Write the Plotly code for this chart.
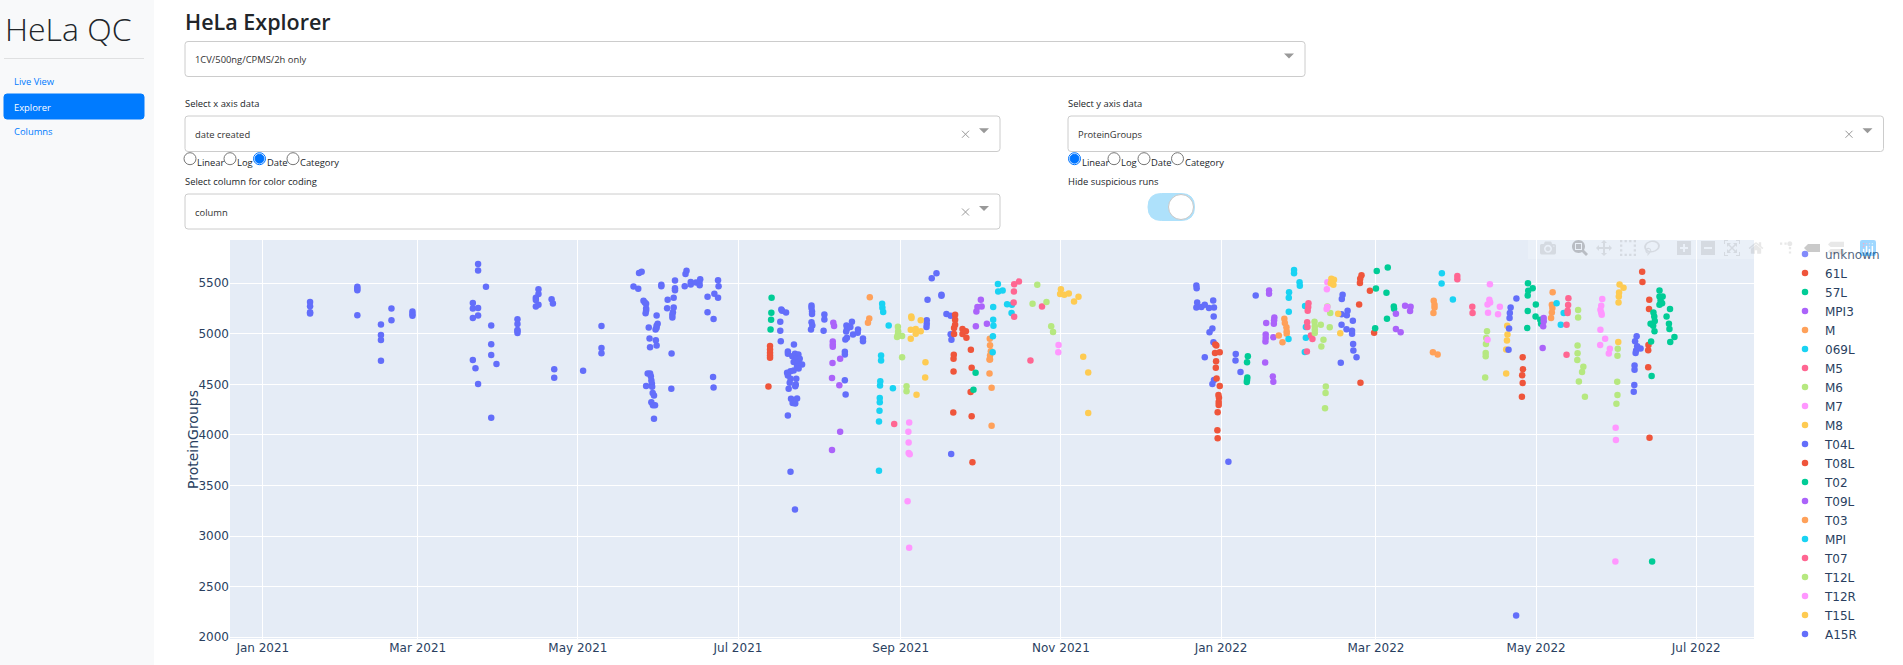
import pandas as pd
import plotly.graph_objects as go

W, H = 1903, 665
START = pd.Timestamp("2021-01-01")

# Data: days since 2021-01-01 and protein group counts
unknown_days = [18,18,18,18,36,36,36,36,45,45,45,45,49,49,57,57,57,80,80,80,80,82,82,82,81,82,82,85,87,87,87,87,89,97,97,97,97,97,105,105,105,104,104,104,110,110.5,111,111,122,129,129,129,
 143.3,144.3,141.2,143,145,145.5,146,146,146,145.8,150,147,150.4,150,150,149.6,147.3,149.7,150,147.5,146.6,147.5,147.8,148,148.2,148.3,146,148.5,149,148,148.6,149.4,149,151.8,151.8,154.2,156.5,154,156.5,156.2,156,156,157,157,157,155.7,155.6,160.7,161,161.4,163,163,165,166.6,166.3,166.4,169.4,172,173.4,173.6,173.4,169.4,171.7,171.5,171.7,
 197.5,197.8,199.3,197.1,197.1,197.3,202.3,200,200,202.7,204,201.7,203.2,204.5,202.2,204.1,205.4,203.5,202.2,204.1,201,199.7,200,201,200.7,203.2,202.8,203,200.3,201.2,203.5,201.8,202.8,200,201,202.7,
 209,209,209.2,209.2,209,209.3,208.8,213.9,213.9,213.6,222.3,222.5,222.2,224.4,223.8,224.8,226.7,226.6,228.6,228.6,221.9,222.5,221.7,221.7,221.7,222,
 256.6,254.8,253.2,258.5,258.5,252.9,252.9,252.8,260.4,262,262,262.3,262.2]
unknown_values = [5315,5272,5213,5200,5464,5447,5431,5183,5091,4988,4939,4734,5249,5134,5220,5196,5177,5305,5249,5157,4741,5256,5180,4503,4660,5691,5625,5464,5081,4896,4790,4170,4701,5144,5097,5038,5028,5008,5441,5394,5286,5355,5335,5269,5342,5299,4649,4566,4635,5078,4860,4807,
 5602,5612,5467,5444,5326,5309,5296,5250,5230,5204,5181,5062,5099,5079,5059,5043,4954,4937,4885,4868,4608,4608,4579,4539,4506,4477,4483,4414,4391,4322,4293,4293,4161,5484,5470,5336,5355,5253,5260,5214,5187,5161,5526,5451,5431,4806,4457,5470,5592,5622,5513,5487,5507,5539,5507,5480,5365,5395,5530,5470,5355,5214,5145,4572,4470,
 5241,5228,5211,5119,5030,4927,4894,4825,4802,4802,4795,4779,4756,4752,4720,4720,4696,4680,4637,4657,4630,4614,4588,4555,4515,4555,4482,4498,4456,4357,4360,4317,4310,4192,3637,3262,
 5280,5254,5221,5195,5115,5082,5043,5191,5142,5030,5082,5050,5023,5119,5066,4993,5043,5010,4954,4927,4944,4960,4822,4795,4541,4399,
 5598,5549,5336,5385,5375,5133,5100,5067,5195,5179,4995,4941,3811]

s61L_days = [193.2,193.2,193.2,193.2,193.2,192.6,263.7,263.7,263.7,263.3,263.3,266.5,266.5,267.8,268,269.7,263.2,263.1,270,263.1,269.6,263,270,270.3]
s61L_values = [4878,4845,4812,4785,4762,4479,5188,5139,5090,5057,4998,5047,4998,5024,4962,4841,4792,4752,4664,4628,4424,4221,4185,3729]

s57L_days = [193.8,193.7,193.6,193.4,271.5,270.7]
s57L_values = [5356,5208,5139,5043,4614,4447]

MPI3_days = [217.3,217.6,217.1,217.1,217.1,217,219.9,216.8,219.6,219.9,216.8,273.5,273.8,272.2,271.8,271.6,275.8]
MPI3_values = [5109,5076,4924,4894,4871,4710,4752,4564,4492,4031,3850,5336,5270,5264,5221,5074,5100]

M_days = [231.2,231,230.5,276.9,277,277.3,277,277,276.8,276.8,277.6,277.6]
M_values = [5360,5152,5109,4952,4887,4828,4785,4746,4746,4608,4467,4090]

s069L_days = [235.9,236,236.3,238.4,235.5,235.5,235.2,235.1,235,235,234.9,234.7,234.7,240,280,280.1,281.8,283.5,285.3,285.2,278.2,278.2,278.3,278.1,278]
s069L_values = [5297,5257,5215,5082,4785,4736,4531,4488,4366,4323,4238,4132,3647,4462,5493,5418,5428,5293,5287,5205,5264,5139,5080,4975,4818]

M5_days = [240.5,288,286.2,286.1,286,286.2,296.8,292.4]
M5_values = [4109,5516,5490,5418,5310,5169,5270,4736]

M6_days = [241.9,241.9,241.6,243.5,242,243.5,245.2,245.2,295,293.2,298.5,300.3,301]
M6_values = [5069,4993,4967,4977,5026,4769,4482,4432,5484,5297,5313,5074,5018]

M7_days = [246.2,245.9,246,246,246.4,245.6,246.2,303.1,303]
M7_values = [4122,4031,3926,3822,3810,3344,2884,4890,4818]

M8_days = [247,247.1,250.6,246.8,248.7,248.7,250.6,246.8,252.4,252.3,249,304,303.7,305.3,307,310.7,309,312.5,314.4,314.4]
M8_values = [5172,5155,5133,5041,5047,5001,5024,4952,4719,4568,4398,5441,5392,5385,5398,5366,5320,4772,4618,4218]

T04L_days = [355.6,355.7,355.9,355.6,357.5,358.8,360.4,362.3,362,362.2,361.7,360.6,362.1,358.8,362.3,361.7,367.8,370.6,370.5,372.4,378.2,
 411.3,411,410.9,413.2,412.9,415.2,410.9,412.8,414.9,414.9,415.3,415.4,416.6,410.6]
T04L_values = [5477,5451,5310,5261,5264,5287,5254,5261,5329,5172,5051,5015,4916,4769,4542,4503,3735,4801,4736,4621,5379,
 5385,5343,5192,5228,5182,5129,5090,5044,5031,5001,4900,4834,4769,4713]

T08L_days = [362.8,363.2,362.7,364.5,363.1,363,363.3,364.5,364,364.2,364.1,364.1,363.7,363.6,363.7,
 418.5,418,417.9,421.7,417.6,423.3,418.1,479.9,480,479.7,479.9,479.6,
 525.4,525.5,528.1,528,527.8,527.7,527.7,528.2]
T08L_values = [4893,4885,4811,4818,4729,4664,4559,4483,4395,4368,4326,4296,4224,4047,3968,
 5579,5543,5503,5425,5290,5011,4516,4769,4650,4591,4513,4378,
 5612,5513,5336,5244,4890,4837,4670,3972]

T02_days = [375.2,374.9,375,374.9,374.8,424.3,428.5,424,428,430.8,430.9,428.2,423.7,481.9,483.7,482,481.8,484.9,481.8,484.8,481.6,486.6,486.9,
 532,532,533.2,532.4,532,533,536,534.7,529.7,530,530.2,528.6,529.6,530.1,535.6,535.8,537.7,536.1,528.8,529,529.2]
T02_values = [4778,4719,4568,4542,4523,5621,5654,5448,5405,5270,5247,5149,5054,5500,5451,5425,5379,5290,5224,5172,5057,5139,5100,
 5428,5369,5369,5329,5287,5303,5244,5172,5211,5172,5126,5100,5080,5024,5100,5047,4969,4919,4923,4582,2749]

T09L_days = [383.3,383.3,382.2,385.3,385.2,385.1,382,382,381.9,384.9,381.8,384.7,384.9,431.6,435.1,437.2,437,431.6,433.4,487.5,487.9,487.9,487.7]
T09L_values = [5428,5395,5106,5162,5133,5100,4992,4959,4923,4965,4716,4578,4526,5198,5277,5267,5224,5047,5015,4860,5156,5123,5074]

T03_days = [389.1,389.3,389.9,390,390,387,388.4,446,446.3,446.3,445.9,445.7,447.5,491.3,491,491.2,491,490.7]
T03_values = [5149,5106,5064,5024,5001,4982,4916,5326,5287,5261,5205,4818,4795,5411,5287,5254,5211,5156]

MPI_days = [392.8,392.8,394.9,395,390.9,390.8,390.8,390.7,397,397.3,397.3,396.9,449.1,449,453.3,492.8,495.5,494.4]
MPI_values = [5631,5598,5510,5474,5411,5356,5218,4949,5274,5067,4962,4821,5598,5497,5339,5303,5205,5090]

T07_days = [398.3,398.2,398,397.8,397.9,399.2,399.8,397.7,455,455,460.7,460.8,497.3,497.2,497,497,496.6,496.6]
T07_values = [5303,5264,5228,5113,5067,4982,4949,4824,5572,5539,5267,5205,5352,5284,5228,5205,5090,4792]

T12L_days = [400.6,400.7,400.7,400.7,403,406.4,406.6,405.5,404,403.2,404.9,404.8,404.6,466.3,466,465.9,465.8,465.8,465.6,
 501,501,500.8,500.8,500.7,503,502.5,501.3,503.6,516.1,516,515.9,516,515.6]
T12L_values = [5120,5074,5041,5008,5090,5064,5205,5270,4942,4874,4480,4414,4263,5024,4959,4900,4811,4778,4568,
 5234,5162,4883,4808,4742,4673,4621,4529,4378,4851,4782,4526,4395,4309]

T12R_days = [405.5,405.3,405.5,405.2,467.4,467.2,467.5,466.5,466.7,470.5,471.2,466.5,
 510.2,509.8,509.5,509.8,510,509.5,511.3,509.4,513.1,512.7,515.3,515.4,515.2]
T12R_values = [5510,5441,5264,5244,5490,5336,5310,5290,5208,5192,5267,4942,
 5343,5277,5238,5211,5188,5041,4952,4890,4851,4805,4070,3949,2749]

T15L_days = [407,408,406.8,407.8,409.6,410.4,474,474.1,473.9,473.6,473.6,516.8,518.3,516.6,516.5,516.4,516.3]
T15L_values = [5543,5533,5500,5484,5198,5005,5080,4992,4933,4844,4608,5487,5454,5408,5369,5310,4919]

A15R_days = [477.5,475.3,475,474.9,474.7,474.5,477.4,523.3,522.7,523.5,524.8,523.1,522.9,522.5,522.5,522.4,522.2]
A15R_values = [5349,5261,5205,5156,5051,4841,2216,4975,4926,4877,4854,4834,4811,4687,4644,4493,4427]

series_names = ["unknown","61L","57L","MPI3","M","069L","M5","M6","M7","M8","T04L","T08L","T02","T09L","T03","MPI","T07","T12L","T12R","T15L","A15R"]
series_days = [unknown_days,s61L_days,s57L_days,MPI3_days,M_days,s069L_days,M5_days,M6_days,M7_days,M8_days,T04L_days,T08L_days,T02_days,T09L_days,T03_days,MPI_days,T07_days,T12L_days,T12R_days,T15L_days,A15R_days]
series_values = [unknown_values,s61L_values,s57L_values,MPI3_values,M_values,s069L_values,M5_values,M6_values,M7_values,M8_values,T04L_values,T08L_values,T02_values,T09L_values,T03_values,MPI_values,T07_values,T12L_values,T12R_values,T15L_values,A15R_values]
palette = ["#636efa","#EF553B","#00cc96","#ab63fa","#FFA15A","#19d3f3","#FF6692","#B6E880","#FF97FF","#FECB52"]

fig = go.Figure()
for i, (name, days, vals) in enumerate(zip(series_names, series_days, series_values)):
    dates = START + pd.to_timedelta(days, unit="D")
    fig.add_trace(go.Scatter(x=list(dates), y=vals, mode="markers", name=name,
                             marker=dict(color=palette[i % 10], size=6.5)))

# ---- page furniture (dashboard controls around the chart) ----
px = lambda v: v / W
py = lambda v: 1 - v / H
shapes, notes = [], []
UI = "Open Sans"
CHART_FONT = "DejaVu Sans, Verdana, sans-serif"

def rrect(x0, y0, x1, y1, r=3, fill="white", line="#cccccc", lw=1):
    d = (f"M {px(x0+r)} {py(y0)} L {px(x1-r)} {py(y0)} Q {px(x1)} {py(y0)} {px(x1)} {py(y0+r)} "
         f"L {px(x1)} {py(y1-r)} Q {px(x1)} {py(y1)} {px(x1-r)} {py(y1)} "
         f"L {px(x0+r)} {py(y1)} Q {px(x0)} {py(y1)} {px(x0)} {py(y1-r)} "
         f"L {px(x0)} {py(y0+r)} Q {px(x0)} {py(y0)} {px(x0+r)} {py(y0)} Z")
    shapes.append(dict(type="path", xref="paper", yref="paper", path=d, fillcolor=fill,
                       line=dict(color=line, width=lw)))

def circle(cx, cy, r, fill="rgba(0,0,0,0)", line="#666666", lw=1):
    shapes.append(dict(type="circle", xref="paper", yref="paper", x0=px(cx-r), x1=px(cx+r),
                       y0=py(cy+r), y1=py(cy-r), fillcolor=fill, line=dict(color=line, width=lw)))

def text(x, y, s, size=9.4, color="#212529", weight=400, anchor="left", angle=0, family=UI):
    notes.append(dict(xref="paper", yref="paper", x=px(x - 2 if anchor == "left" else x), y=py(y), text=s, showarrow=False,
                      xanchor=anchor, yanchor="middle", textangle=angle,
                      font=dict(family=family, size=size, color=color, weight=weight)))

def arrow(cx, cy):
    d = f"M {px(cx-5)} {py(cy-2.5)} L {px(cx+5)} {py(cy-2.5)} L {px(cx)} {py(cy+2.5)} Z"
    shapes.append(dict(type="path", xref="paper", yref="paper", path=d, fillcolor="#999999",
                       line=dict(width=0)))

def cross(cx, cy):
    d = (f"M {px(cx-3.5)} {py(cy-3.5)} L {px(cx+3.5)} {py(cy+3.5)} "
         f"M {px(cx-3.5)} {py(cy+3.5)} L {px(cx+3.5)} {py(cy-3.5)}")
    shapes.append(dict(type="path", xref="paper", yref="paper", path=d,
                       line=dict(color="#999999", width=1)))

def dropdown(x0, y0, x1, y1, label, clear=True):
    rrect(x0, y0, x1, y1)
    text(x0 + 10, (y0 + y1) / 2 + 0.5, label, color="#333333")
    arrow(x1 - 16, (y0 + y1) / 2 - 3)
    if clear:
        cross(x1 - 34.5, (y0 + y1) / 2 + 0.5)

def radio(cx, cy, label, checked=False):
    if checked:
        circle(cx, cy, 4.5, fill="#0075ff", line="#0075ff", lw=1)
        circle(cx, cy, 6, line="#0075ff", lw=1)
    else:
        circle(cx, cy, 6, line="#767676", lw=1)
    text(cx + 7, cy + 3.5, label)

# sidebar
shapes.append(dict(type="rect", xref="paper", yref="paper", x0=0, x1=px(154), y0=0, y1=1,
                   fillcolor="#f8f9fa", line=dict(width=0)))
text(5, 28, "HeLa QC", size=32, weight=300, color="#212529")
shapes.append(dict(type="line", xref="paper", yref="paper", x0=px(4), x1=px(144), y0=py(58.5), y1=py(58.5),
                   line=dict(color="#dfe0e1", width=1)))
text(14, 81.5, "Live View", color="#007bff")
rrect(4, 94, 144, 119, r=3, fill="#007bff", line="#007bff")
text(14, 107, "Explorer", color="white")
text(14, 131.5, "Columns", color="#007bff")

# header and controls
text(185, 21.5, "HeLa Explorer", size=21.5, weight=600, color="#212529")
dropdown(185, 41.5, 1305, 76.5, "1CV/500ng/CPMS/2h only", clear=False)
text(185, 104, "Select x axis data")
dropdown(185, 116, 1000, 151.5, "date created")
radio(190, 158.7, "Linear")
radio(230, 158.7, "Log")
radio(259.5, 158.7, "Date", checked=True)
radio(293, 158.7, "Category")
text(185, 182, "Select column for color coding")
dropdown(185, 194, 1000, 229, "column")

text(1068, 104, "Select y axis data")
dropdown(1068, 116, 1883.5, 151.5, "ProteinGroups")
radio(1074.5, 158.7, "Linear", checked=True)
radio(1114, 158.7, "Log")
radio(1144, 158.7, "Date")
radio(1177.5, 158.7, "Category")
text(1068, 182, "Hide suspicious runs")
rrect(1148, 193.5, 1194.5, 220.5, r=13.5, fill="#aee1fb", line="#aee1fb")
circle(1181, 207, 12.5, fill="white", line="#c8c8c8", lw=1)

# y axis title sits on top of the tick labels, as in the source
text(193, 440, "ProteinGroups", size=14, color="#2a3f5f", anchor="center", angle=-90, family=CHART_FONT)

fig.update_layout(
    template="plotly",
    font=dict(family=CHART_FONT, size=12),
    width=W, height=H, autosize=False,
    margin=dict(l=0, r=0, t=0, b=0, pad=0, autoexpand=False),
    paper_bgcolor="white",
    xaxis=dict(domain=[230/W, 1754/W], type="date", automargin=False,
               range=["2020-12-19 12:00", "2022-07-23"], dtick="M2", tick0="2021-01-01", tickformat="%b %Y"),
    yaxis=dict(domain=[1-639/H, 1-240/H], automargin=False, range=[1983, 5927], dtick=500),
    legend=dict(x=1785/W, y=1-239.5/H, xanchor="left", yanchor="top", bgcolor="rgba(0,0,0,0)", font=dict(size=12)),
    modebar=dict(add=["togglespikelines", "hoverclosest", "hovercompare"]),
    shapes=shapes, annotations=notes,
)

post = """
var st=document.createElement('style');
st.textContent='html,body{margin:0;padding:0;overflow:hidden;background:#fff}.modebar-container{top:235px !important}.modebar{right:23px !important;opacity:0.4}.modebar-btn--logo rect{fill:#119dff !important}';
document.head.appendChild(st);
"""
fig.write_html("out.html", post_script=post,
               config={"displayModeBar": True,
                       "modeBarButtonsToAdd": ["toggleSpikelines", "hoverClosestCartesian", "hoverCompareCartesian"]})
